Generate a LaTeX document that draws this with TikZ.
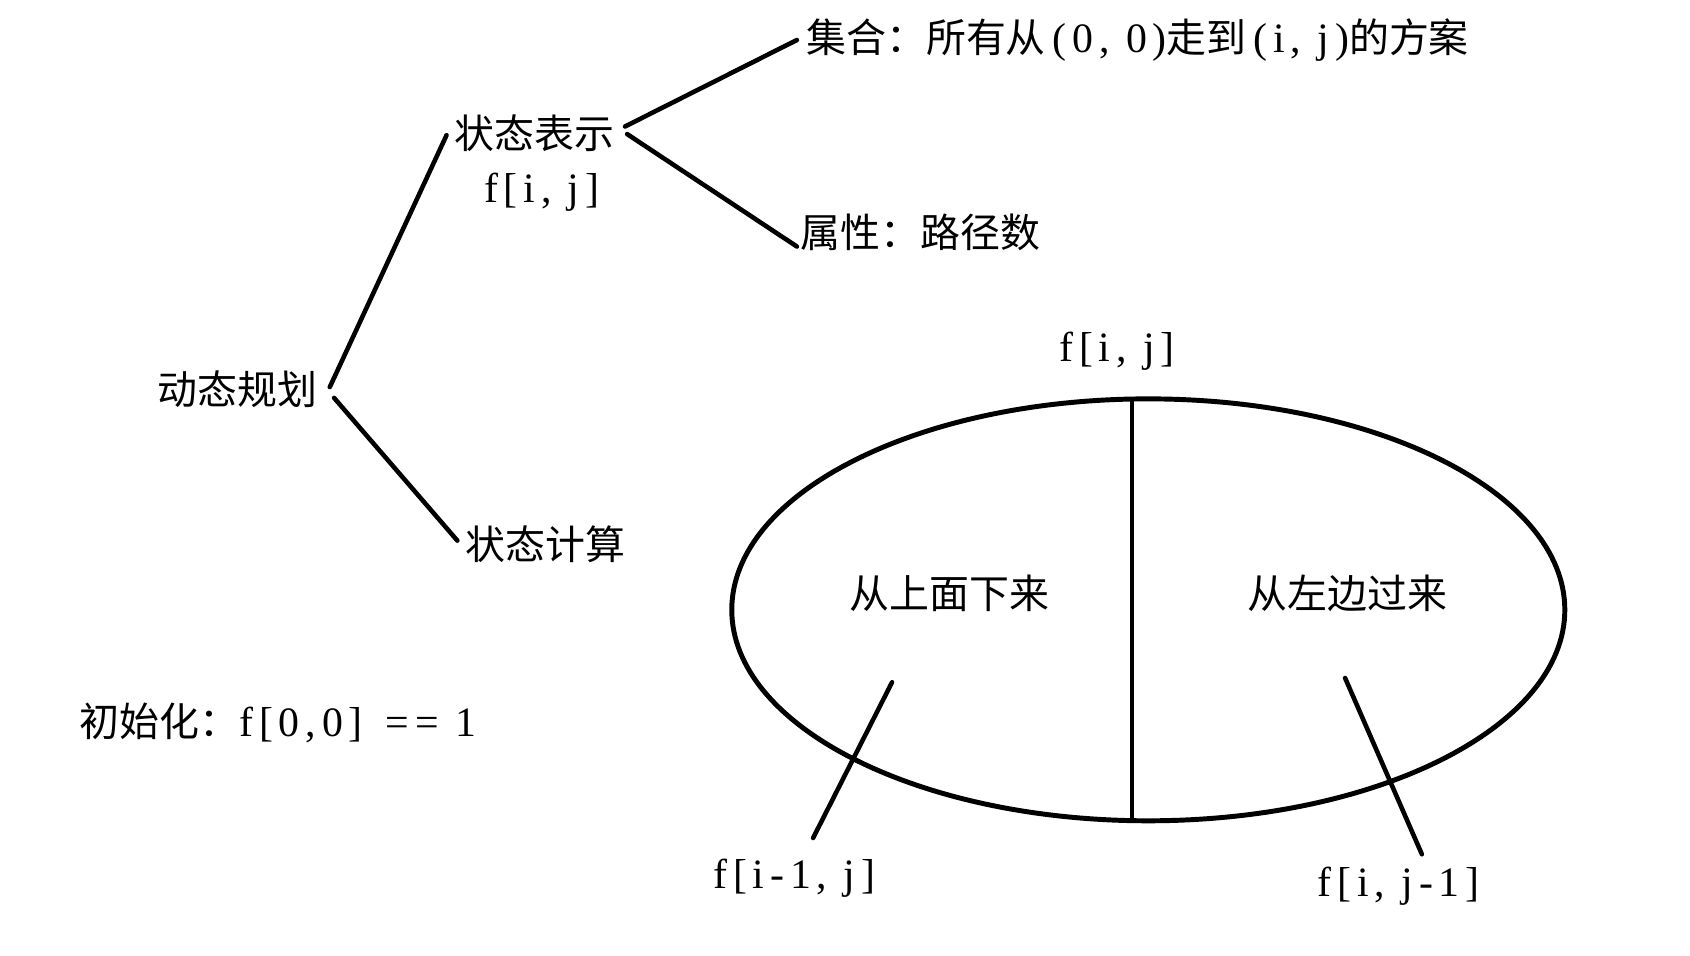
\documentclass[tikz,border=0pt]{standalone}
\usepackage{fontspec}
\setmainfont[LetterSpace=14]{Liberation Serif}
\newfontfamily\cjk{Noto Sans CJK SC}
\newcommand\zh[1]{{\cjk\fontsize{10.5pt}{12pt}\selectfont #1}}
\usetikzlibrary{shapes.geometric}
\begin{document}
\begin{tikzpicture}[x=0.01cm,y=-0.01cm,
  txt/.style={anchor=west,inner sep=0pt,font=\fontsize{11pt}{12pt}\selectfont},
  link/.style={line width=1.2pt,line cap=round},
  oval/.style={draw,ellipse,line width=1.3pt,inner sep=0pt,minimum width=7.7cm,minimum height=3.9cm}]
\path[use as bounding box] (0,0) rectangle (1563,884);
% text nodes
\node[txt] (jh) at (745,37) {\zh{集合：所有从}\,(0, 0)\zh{走到}\,(i, j)\zh{的方案}};
\node[txt] (zt) at (420,123) {\zh{状态表示}};
\node[txt] (zf) at (447,178) {f[i, j]};
\node[txt] (sx) at (740,215) {\zh{属性：路径数}};
\node[txt] (dp) at (145,360) {\zh{动态规划}};
\node[txt] (js) at (430,503) {\zh{状态计算}};
\node[txt] (cs) at (73,669) {\zh{初始化：}f[0,0]\ \,==\ 1};
\node[txt] (top) at (979,325) {f[i, j]};
\node[oval] (ell) at (1062,564) {};
\node[txt] (l1) at (785,549) {\zh{从上面下来}};
\node[txt] (r1) at (1153,549) {\zh{从左边过来}};
\node[txt] (fl) at (659,812) {f[i-1, j]};
\node[txt] (fr) at (1218,820) {f[i, j-1]};
% connector end points
\coordinate (a1) at (578,117); \coordinate (a2) at (737,37);
\coordinate (b1) at (580,124); \coordinate (b2) at (737,228);
\coordinate (c1) at (305,358); \coordinate (c2) at (413,125);
\coordinate (d1) at (309,368); \coordinate (d2) at (423,500);
\coordinate (e1) at (825,631); \coordinate (e2) at (752,775);
\coordinate (f1) at (1244,627); \coordinate (f2) at (1315,790);
\coordinate (vt) at (1047,369); \coordinate (vb) at (1047,759);
\draw[link] (a1) -- (a2);
\draw[link] (b1) -- (b2);
\draw[link] (c1) -- (c2);
\draw[link] (d1) -- (d2);
\draw[link] (e1) -- (e2);
\draw[link] (f1) -- (f2);
\draw[line width=1.1pt] (vt) -- (vb);
\end{tikzpicture}
\end{document}
